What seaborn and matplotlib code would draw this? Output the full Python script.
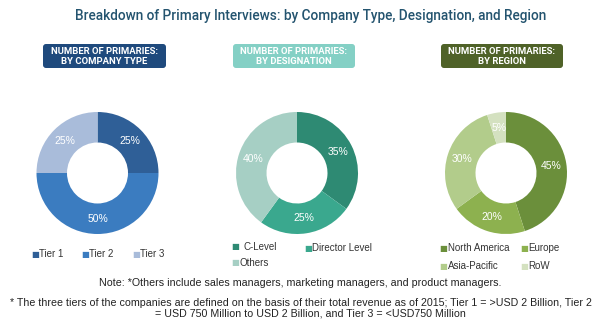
import matplotlib
matplotlib.use("Agg")
import matplotlib.pyplot as plt
import seaborn as sns
from matplotlib.patches import FancyBboxPatch

sns.set_theme(style="white")
plt.rcParams["font.family"] = ["Roboto", "DejaVu Sans"]

# Data
company_labels = ["Tier 1", "Tier 2", "Tier 3"]
company_values = [25, 50, 25]
designation_labels = ["C-Level", "Director Level", "Others"]
designation_values = [35, 25, 40]
region_labels = ["North America", "Europe", "Asia-Pacific", "RoW"]
region_values = [45, 20, 30, 5]

company_colors = ["#2f5f97", "#3b7cc0", "#a9bcda"]
designation_colors = ["#2e8a73", "#3aa88e", "#a6cfc4"]
region_colors = ["#6b8f3b", "#8db14f", "#b2cc8b", "#d4e1c0"]

W, H = 600, 326
fig = plt.figure(figsize=(6, 3.26), dpi=100)
fig.patch.set_facecolor("white")


def px_axes(cx, cy, r):
    return fig.add_axes([(cx - r) / W, (H - cy - r) / H, 2 * r / W, 2 * r / H])


def donut(cx, cy, r, values, colors):
    ax = px_axes(cx, cy, r)
    ax.pie(values, colors=colors, startangle=90, counterclock=False,
           wedgeprops=dict(width=0.5, edgecolor="none"),
           autopct=lambda p: f"{p:.0f}%", pctdistance=0.75,
           textprops=dict(color="white", fontsize=7.5, family=["Liberation Sans"]))
    ax.set_xlim(-1, 1)
    ax.set_ylim(-1, 1)
    ax.axis("off")
    return ax


# Pixel-space overlay for headers
overlay = fig.add_axes([0, 0, 1, 1], zorder=-1)
overlay.set_xlim(0, W)
overlay.set_ylim(H, 0)
overlay.axis("off")


def header(x0, x1, y0, y1, color, lines):
    box = FancyBboxPatch((x0, y0), x1 - x0, y1 - y0,
                         boxstyle="round,pad=0,rounding_size=3",
                         facecolor=color, edgecolor="none")
    overlay.add_patch(box)
    overlay.text((x0 + x1) / 2, (y0 + y1) / 2 + 0.5, lines, color="white", fontsize=6.8,
                 fontweight="bold", ha="center", va="center", linespacing=1.2)


def legend_item(x, xt, y, color, label):
    fig.text(x / W, 1 - y / H, "■", color=color, fontsize=6, ha="left", va="center",
             family=["DejaVu Sans"])
    fig.text((xt + 1) / W, 1 - y / H, label, color="#333333", fontsize=7.0,
             ha="left", va="center", family=["Liberation Sans"])


# Title
fig.text(311 / W, 1 - 16 / H,
         "Breakdown of Primary Interviews: by Company Type, Designation, and Region",
         color="#24546f", fontsize=9.8, ha="center", va="center", fontweight="medium")

header(43, 166, 44, 68, "#1f4a7d", "NUMBER OF PRIMARIES:\nBY COMPANY TYPE")
header(233, 355, 44, 68, "#84d0c5", "NUMBER OF PRIMARIES:\nBY DESIGNATION")
header(441, 563, 44, 68, "#4f6228", "NUMBER OF PRIMARIES:\nBY REGION")

donut(97.5, 173, 61, company_values, company_colors)
donut(297, 173, 61, designation_values, designation_colors)
donut(506, 173, 61, region_values, region_colors)

# Legends
for (x, xt, y), c, l in zip([(31, 38, 254), (81, 88, 254), (132, 139, 254)],
                            company_colors, company_labels):
    legend_item(x, xt, y, c, l)
for (x, xt, y), c, l in zip([(231, 243, 247), (304, 311, 248), (231, 239, 263)],
                            designation_colors, designation_labels):
    legend_item(x, xt, y, c, l)
for (x, xt, y), c, l in zip([(439, 447, 248), (520, 527, 248), (439, 447, 266), (520, 527, 266)],
                            region_colors, region_labels):
    legend_item(x, xt, y, c, l)

# Notes
note_style = dict(color="#222222", fontsize=7.7, ha="center", va="center",
                  family=["Liberation Sans"])
fig.text(300 / W, 1 - 283 / H,
         "Note: *Others include sales managers, marketing managers, and product managers.",
         **note_style)
fig.text(301 / W, 1 - 303 / H,
         "* The three tiers of the companies are defined on the basis of their total revenue as of 2015; "
         "Tier 1 = >USD 2 Billion, Tier 2",
         **note_style)
fig.text(310 / W, 1 - 314 / H,
         "= USD 750 Million to USD 2 Billion, and Tier 3 = <USD750 Million",
         **note_style)

fig.savefig("out.png", dpi=100, facecolor="white")
